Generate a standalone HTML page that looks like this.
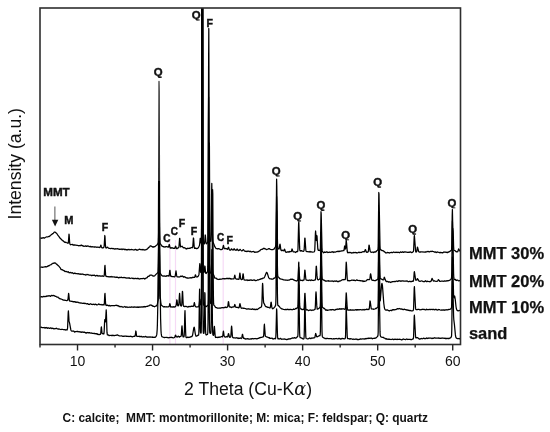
<!DOCTYPE html>
<html><head><meta charset="utf-8"><style>
html,body{margin:0;padding:0;background:#fff;}
body{width:550px;height:432px;overflow:hidden;}
svg{display:block;}
</style></head><body>
<svg width="550" height="432" viewBox="0 0 550 432">
<rect width="550" height="432" fill="#fff"/>
<defs><clipPath id="qc"><rect x="151.3" y="64.3" width="14" height="13.6"/><rect x="189.25" y="7.0" width="14" height="13.6"/><rect x="269.3" y="162.9" width="14" height="13.6"/><rect x="290.6" y="208.0" width="14" height="13.6"/><rect x="314.0" y="197.4" width="14" height="13.6"/><rect x="338.8" y="226.7" width="14" height="13.6"/><rect x="370.8" y="174.2" width="14" height="13.6"/><rect x="405.7" y="221.1" width="14" height="13.6"/><rect x="445.0" y="194.6" width="14" height="13.6"/></clipPath><clipPath id="cp"><rect x="40" y="8" width="420.5" height="336.5"/></clipPath></defs>
<g stroke="#f6daf6" stroke-width="1.2">
<line x1="169.9" y1="240" x2="169.9" y2="344"/>
<line x1="175.5" y1="240" x2="175.5" y2="344"/>
<line x1="223.2" y1="240" x2="223.2" y2="344"/>
</g>
<g clip-path="url(#cp)" fill="none" stroke="#000" stroke-width="1.25" stroke-linejoin="round">
<path d="M40.0 238.3 L40.2 238.2 L40.4 238.3 L40.6 237.9 L40.8 238.1 L41.2 238.1 L41.4 238.0 L41.6 238.3 L41.8 238.0 L42.2 237.9 L42.4 238.0 L42.6 237.8 L42.8 237.9 L43.6 237.7 L44.0 238.0 L44.6 238.0 L45.2 237.5 L46.8 236.8 L47.4 237.0 L48.6 236.5 L49.0 236.7 L49.2 236.4 L49.6 236.3 L49.8 236.2 L50.4 235.3 L51.4 234.8 L52.8 233.5 L53.2 233.5 L54.2 232.1 L54.4 232.1 L54.6 232.0 L55.2 232.2 L56.8 233.5 L57.8 235.2 L58.8 236.3 L60.2 238.3 L61.2 239.2 L62.4 240.5 L62.8 240.8 L63.0 240.7 L63.6 241.3 L63.8 241.3 L64.2 241.9 L64.4 241.8 L64.8 242.3 L65.0 242.3 L65.2 242.1 L65.4 242.5 L66.0 242.3 L66.2 242.5 L67.8 243.1 L68.0 243.3 L68.2 243.1 L68.4 242.1 L69.0 234.1 L69.2 235.3 L69.6 242.0 L69.8 243.4 L70.2 244.4 L70.6 244.6 L70.8 244.8 L71.4 244.5 L72.2 244.4 L73.0 244.9 L73.2 245.1 L73.6 244.9 L73.8 244.9 L74.0 245.1 L74.2 244.9 L74.8 245.2 L75.0 245.0 L75.4 245.1 L75.8 245.0 L76.8 245.3 L77.4 245.3 L78.4 245.8 L78.6 245.6 L79.2 245.5 L80.2 245.8 L80.8 245.3 L81.0 245.3 L81.2 245.0 L81.4 245.3 L82.0 245.7 L82.2 245.8 L82.4 245.5 L82.8 245.8 L83.0 245.7 L84.0 246.4 L85.2 246.0 L85.4 246.1 L85.6 245.9 L86.4 246.4 L87.0 246.1 L87.2 245.8 L88.0 246.2 L88.2 246.2 L88.4 246.1 L88.8 246.3 L89.0 246.3 L89.2 246.6 L89.8 246.4 L90.0 246.3 L90.2 246.3 L90.4 246.5 L90.6 246.4 L91.0 247.0 L91.4 246.8 L91.6 246.9 L91.8 246.6 L92.2 246.6 L92.8 247.0 L93.6 246.9 L94.4 247.2 L94.8 246.8 L95.2 246.8 L95.4 247.0 L95.8 247.1 L96.4 247.1 L97.0 247.3 L97.2 247.1 L97.8 247.1 L99.2 247.3 L99.6 247.6 L100.2 247.0 L100.8 245.1 L101.0 245.3 L101.4 247.0 L101.6 247.4 L102.0 247.8 L102.2 247.7 L102.4 248.0 L103.2 247.9 L104.0 247.0 L104.2 245.7 L104.8 235.5 L105.0 236.7 L105.4 244.8 L105.8 247.9 L106.4 248.0 L106.6 247.9 L107.4 247.1 L107.6 247.2 L108.4 248.2 L109.4 248.3 L109.8 248.5 L110.4 248.7 L111.2 248.4 L111.8 248.5 L112.0 248.4 L112.6 248.6 L113.0 248.6 L113.4 248.7 L113.8 248.5 L114.0 248.9 L114.2 248.8 L114.8 249.2 L116.0 248.7 L116.2 248.9 L116.8 248.8 L117.0 248.9 L117.6 248.7 L117.8 248.9 L118.4 249.0 L118.6 249.2 L118.8 248.9 L119.0 249.0 L119.2 249.0 L119.4 249.3 L119.6 249.1 L119.8 249.3 L120.2 249.4 L120.4 249.2 L120.6 249.3 L121.2 249.0 L121.6 249.1 L122.0 249.7 L122.2 249.7 L122.8 249.0 L123.0 249.0 L123.4 249.0 L123.8 249.4 L124.2 249.2 L124.4 249.6 L124.6 249.6 L124.8 249.4 L125.2 249.6 L125.4 249.4 L126.4 249.8 L126.8 249.7 L127.6 249.9 L128.0 249.5 L128.2 249.6 L128.4 249.4 L128.8 249.5 L129.0 249.7 L129.2 249.5 L129.4 249.7 L129.6 249.6 L129.8 249.8 L130.6 249.7 L130.8 249.6 L131.2 249.6 L131.4 249.4 L133.6 250.0 L134.0 249.8 L134.4 249.9 L135.4 249.4 L136.6 249.8 L137.0 250.3 L137.2 250.3 L138.0 249.8 L138.8 249.6 L139.2 249.2 L139.4 249.4 L139.8 249.2 L140.6 249.6 L141.2 249.5 L141.8 249.8 L142.4 249.8 L142.8 249.4 L143.4 249.6 L143.6 249.8 L144.0 249.8 L144.2 249.9 L144.6 249.8 L144.8 250.0 L145.2 249.8 L145.6 249.9 L145.8 249.7 L146.2 249.7 L146.6 249.3 L146.8 249.4 L147.0 249.3 L147.2 249.0 L147.6 248.7 L148.0 248.1 L148.2 248.1 L148.6 247.4 L148.8 247.3 L149.0 247.3 L149.6 246.9 L150.2 245.9 L150.6 245.8 L151.0 245.9 L152.2 246.8 L152.4 246.7 L152.8 247.2 L153.2 247.0 L153.4 247.2 L153.6 246.8 L154.0 246.7 L154.2 246.9 L154.8 246.7 L156.6 245.1 L156.8 245.1 L157.2 244.7 L157.4 244.2 L158.0 243.4 L158.2 241.9 L158.4 232.5 L159.0 81.4 L159.2 91.3 L159.6 208.2 L159.8 235.1 L160.0 242.5 L160.2 243.9 L160.4 243.9 L161.2 244.9 L161.4 245.4 L162.2 246.4 L162.4 246.3 L162.8 246.5 L163.0 246.4 L163.6 246.9 L163.8 246.7 L164.0 246.9 L164.2 246.8 L164.6 246.9 L164.8 247.1 L165.0 247.0 L165.2 247.0 L165.6 246.6 L166.2 246.5 L166.6 246.7 L166.8 246.6 L167.4 246.8 L167.8 247.1 L168.0 247.0 L168.2 247.2 L168.4 247.1 L168.6 246.9 L169.2 244.5 L169.4 244.7 L170.0 247.6 L170.2 248.0 L170.4 248.1 L171.4 247.9 L171.6 248.0 L171.8 247.7 L172.2 247.7 L173.0 248.3 L174.0 248.2 L174.2 248.4 L174.4 248.3 L174.6 248.4 L174.8 248.3 L175.0 247.9 L175.4 246.5 L175.6 246.2 L175.8 246.5 L176.4 248.5 L176.6 248.5 L177.0 248.7 L177.4 248.3 L178.6 247.6 L178.8 247.4 L179.0 246.5 L179.6 238.3 L179.8 238.5 L180.2 244.1 L180.6 246.8 L181.0 246.8 L181.4 246.5 L182.0 246.2 L183.2 247.7 L183.4 247.8 L183.6 247.6 L183.8 247.8 L184.4 247.7 L184.6 248.0 L185.2 248.1 L185.8 248.6 L186.0 248.9 L186.2 249.0 L186.6 248.8 L186.8 248.8 L187.0 248.5 L187.4 248.3 L187.8 248.5 L188.0 248.4 L188.4 248.5 L188.8 248.3 L189.2 248.4 L189.4 248.2 L189.6 248.4 L190.2 248.2 L190.4 248.2 L191.0 247.6 L191.4 247.5 L191.6 247.7 L192.0 247.6 L192.4 247.8 L192.8 246.5 L193.4 238.0 L193.6 238.4 L194.2 246.8 L194.4 248.0 L194.6 248.3 L195.0 248.2 L195.2 248.3 L195.4 248.0 L196.2 248.3 L196.4 248.6 L196.6 248.5 L197.0 248.6 L197.4 248.5 L198.0 248.1 L198.8 246.8 L199.2 246.0 L199.6 244.7 L200.2 238.5 L200.4 238.3 L201.0 242.9 L201.2 243.2 L201.4 240.4 L201.6 215.7 L201.8 111.2 L202.2 -300.0 L202.4 -278.2 L203.0 207.1 L203.2 238.0 L203.4 243.0 L203.6 243.6 L204.2 244.0 L204.4 243.7 L204.6 242.8 L205.2 235.0 L205.4 235.2 L206.0 242.7 L206.2 243.6 L206.4 243.8 L206.6 243.7 L207.6 242.6 L207.8 241.8 L208.0 236.3 L208.2 210.8 L208.6 63.1 L208.8 28.5 L209.4 205.0 L209.6 232.1 L209.8 239.5 L210.0 240.8 L210.2 241.0 L210.4 241.0 L210.8 241.3 L211.0 240.4 L211.2 234.7 L211.6 193.2 L211.8 183.4 L212.4 232.9 L212.6 239.9 L212.8 241.7 L213.8 243.9 L214.8 246.7 L216.0 248.5 L216.2 248.7 L216.8 248.6 L217.0 248.7 L217.8 249.0 L218.0 248.6 L218.8 248.7 L219.0 248.9 L219.6 248.9 L220.4 249.5 L220.6 249.5 L220.8 249.6 L221.4 249.5 L221.6 249.6 L222.2 249.2 L222.4 249.2 L222.6 248.9 L223.4 245.4 L223.6 245.8 L224.0 247.7 L224.2 248.4 L224.4 248.6 L225.2 248.3 L225.8 248.7 L226.4 248.8 L226.6 248.6 L226.8 248.7 L227.6 249.4 L228.4 247.3 L228.6 247.2 L229.2 249.3 L229.8 250.0 L230.8 250.0 L231.4 248.9 L231.6 248.8 L232.2 249.7 L232.6 249.9 L233.0 249.8 L233.2 250.0 L233.4 249.9 L234.2 248.7 L234.6 249.6 L234.8 249.7 L235.2 250.2 L235.4 250.0 L236.0 250.3 L236.2 250.2 L236.4 250.1 L237.0 249.1 L237.2 249.0 L237.8 250.1 L238.4 250.6 L238.6 250.6 L238.8 250.4 L239.2 250.4 L239.8 249.5 L240.2 249.3 L240.8 250.1 L241.6 250.9 L242.4 250.6 L243.2 249.5 L243.4 249.5 L244.2 250.7 L245.0 251.3 L246.2 251.1 L246.4 251.3 L246.6 251.3 L246.8 251.6 L247.4 251.4 L247.8 251.1 L248.2 251.2 L248.4 251.1 L249.6 251.6 L249.8 251.5 L250.2 251.1 L251.2 252.0 L252.4 251.6 L253.4 251.6 L253.6 251.4 L253.8 251.4 L254.4 252.2 L254.8 252.4 L255.0 252.4 L255.2 252.0 L255.4 252.0 L255.6 252.1 L256.0 252.0 L256.4 252.2 L257.2 252.2 L257.4 251.8 L257.6 251.9 L258.4 251.7 L259.0 251.1 L259.6 250.8 L259.8 250.8 L260.2 250.2 L260.6 250.0 L260.8 249.5 L261.6 249.3 L261.8 249.4 L262.2 249.4 L262.4 249.2 L262.6 249.2 L262.8 248.8 L263.6 248.4 L263.8 248.7 L264.0 248.4 L264.2 248.5 L264.4 248.4 L264.8 248.5 L265.0 248.8 L265.6 248.9 L266.0 249.3 L266.8 249.6 L267.0 249.4 L268.2 249.0 L268.4 248.7 L268.6 248.8 L269.2 248.6 L269.8 248.8 L270.2 249.3 L270.6 249.5 L271.4 249.7 L272.6 249.7 L273.0 249.6 L273.4 249.2 L273.8 249.2 L274.0 249.0 L274.2 249.0 L274.8 247.8 L275.6 246.7 L275.8 245.4 L276.0 239.2 L276.6 179.1 L276.8 185.9 L277.4 238.5 L277.6 245.5 L277.8 247.6 L278.0 248.1 L278.6 249.0 L279.2 248.9 L279.8 244.7 L280.0 244.1 L280.2 244.8 L280.8 249.5 L281.0 250.1 L281.4 250.6 L281.6 250.7 L281.8 250.4 L282.2 250.5 L282.6 250.2 L283.4 250.8 L283.6 250.8 L283.8 250.7 L284.0 250.3 L284.4 249.1 L284.6 249.2 L284.8 249.7 L285.4 251.7 L285.8 252.2 L286.2 252.4 L287.0 252.0 L287.2 252.1 L287.4 251.8 L288.0 251.9 L288.2 251.7 L288.4 252.0 L289.2 252.0 L289.6 251.5 L289.8 251.7 L290.6 251.5 L291.0 251.6 L291.4 251.4 L292.0 249.0 L292.2 249.1 L292.8 251.2 L293.2 251.8 L293.4 251.9 L294.6 251.8 L295.6 252.5 L296.0 252.2 L296.4 251.6 L296.8 251.6 L297.0 251.4 L297.4 251.7 L297.6 251.5 L297.8 250.8 L298.0 248.3 L298.6 223.7 L298.8 221.8 L299.6 246.9 L299.8 249.9 L300.0 250.8 L300.2 250.8 L300.4 251.1 L300.8 250.6 L301.0 250.8 L301.6 250.7 L301.8 251.0 L302.4 251.0 L302.6 251.2 L303.2 251.3 L303.6 251.3 L304.0 250.6 L304.2 249.2 L304.8 238.1 L305.0 238.1 L305.8 249.8 L306.0 251.0 L306.2 251.3 L306.8 251.6 L308.0 251.6 L308.2 251.8 L309.0 251.6 L309.2 251.4 L309.8 252.0 L310.0 251.9 L310.2 252.0 L310.8 251.5 L311.0 251.7 L311.2 251.7 L311.6 252.0 L312.2 252.2 L314.0 251.9 L314.4 251.6 L314.6 251.1 L314.8 249.8 L315.4 233.5 L315.6 231.0 L316.2 240.0 L316.4 240.5 L316.8 235.5 L317.0 236.1 L317.8 248.7 L318.0 249.8 L318.4 250.3 L318.8 250.2 L319.2 250.5 L319.4 250.3 L319.6 250.4 L320.0 250.4 L320.2 250.1 L320.4 247.6 L321.0 211.7 L321.2 213.9 L322.0 248.0 L322.2 250.9 L322.4 251.4 L323.6 252.8 L324.6 252.0 L324.8 252.2 L325.4 252.4 L326.0 252.0 L326.4 251.9 L326.6 252.1 L326.8 251.9 L327.2 252.1 L327.8 252.6 L328.0 252.6 L328.4 252.3 L328.8 252.4 L329.2 252.2 L329.4 252.3 L329.8 252.1 L330.8 252.3 L331.4 252.1 L331.6 251.9 L332.0 251.9 L332.2 251.6 L332.6 252.0 L333.0 252.1 L333.2 252.5 L333.8 251.8 L334.2 251.8 L334.4 252.1 L335.2 252.2 L336.6 251.5 L337.2 251.6 L337.4 251.3 L337.6 251.3 L337.8 251.4 L338.2 251.1 L338.6 251.6 L338.8 251.4 L339.0 251.3 L339.2 251.5 L339.4 251.2 L339.8 251.3 L340.8 251.2 L341.2 250.9 L341.4 251.0 L341.6 250.9 L342.2 251.0 L343.2 250.5 L343.8 250.7 L344.0 250.2 L344.2 249.1 L344.6 246.0 L344.8 246.3 L345.4 249.0 L345.6 248.6 L346.2 240.4 L346.6 243.3 L347.2 251.0 L347.6 252.7 L348.0 252.8 L348.6 252.4 L349.2 252.6 L350.0 252.3 L351.8 253.1 L352.2 252.8 L352.6 252.9 L352.8 252.7 L353.2 252.8 L353.6 252.3 L354.8 252.7 L355.2 252.5 L355.6 252.7 L355.8 252.5 L356.2 252.8 L356.6 252.6 L356.8 252.9 L357.2 252.7 L357.4 252.8 L358.2 252.6 L358.8 252.2 L359.2 252.2 L359.8 252.7 L360.4 252.4 L361.4 252.5 L362.0 252.0 L362.6 251.9 L362.8 251.6 L363.4 251.6 L363.8 251.9 L364.6 251.6 L365.0 250.1 L365.2 249.7 L365.4 249.6 L365.8 250.4 L366.4 252.2 L367.0 252.3 L367.2 252.0 L367.8 252.1 L368.2 251.7 L368.4 251.1 L369.0 245.1 L369.2 245.3 L370.2 251.4 L370.6 252.0 L371.4 252.3 L371.6 252.1 L372.0 252.2 L372.6 252.1 L373.6 252.5 L374.2 251.8 L374.6 251.9 L374.8 252.2 L375.0 252.2 L375.6 251.9 L375.8 251.5 L376.2 251.7 L376.4 251.2 L377.2 250.3 L377.6 250.2 L378.0 249.5 L378.2 246.4 L378.8 192.5 L379.0 194.0 L380.0 245.5 L380.2 248.8 L380.4 249.5 L380.8 249.9 L381.0 250.1 L381.2 250.0 L381.6 250.4 L382.2 250.7 L382.8 250.5 L383.0 250.6 L383.2 250.9 L383.4 250.9 L384.0 251.5 L384.2 251.4 L384.6 251.9 L385.0 252.0 L385.2 252.4 L385.6 252.6 L386.0 253.0 L386.6 252.9 L387.6 252.4 L387.8 252.6 L388.0 252.6 L388.4 252.8 L388.8 252.6 L389.4 253.0 L389.6 253.0 L390.0 252.9 L390.4 252.5 L391.4 252.4 L391.8 252.6 L392.0 252.5 L392.6 252.6 L393.6 252.0 L394.8 252.5 L395.2 252.3 L395.6 252.5 L395.8 252.4 L396.2 252.5 L397.0 252.1 L397.2 252.3 L397.8 252.3 L398.0 252.5 L398.6 252.3 L399.4 252.8 L400.4 252.0 L400.6 252.2 L400.8 252.0 L401.2 252.4 L401.4 252.3 L401.8 252.4 L402.2 252.0 L402.4 252.1 L402.8 251.8 L403.4 252.3 L403.8 252.4 L404.2 252.2 L404.4 251.9 L404.8 251.8 L405.0 251.9 L405.2 251.8 L405.8 252.1 L406.2 252.0 L407.4 252.4 L408.4 252.2 L408.6 252.4 L409.2 252.4 L410.2 251.9 L410.4 252.0 L410.6 251.9 L411.0 252.3 L411.6 252.6 L411.8 252.4 L412.2 252.5 L412.4 252.4 L413.4 251.5 L413.6 250.5 L414.2 236.7 L414.4 235.5 L415.6 251.0 L415.8 252.0 L416.0 252.1 L416.6 251.8 L416.8 251.3 L417.4 247.1 L417.6 247.4 L417.8 248.1 L418.6 251.3 L418.8 251.7 L419.6 252.2 L420.6 251.8 L420.8 252.0 L421.8 251.8 L424.8 252.1 L425.4 251.8 L425.6 252.0 L425.8 251.8 L426.2 252.0 L426.8 251.7 L427.0 251.5 L427.2 251.4 L427.6 251.7 L428.0 251.5 L428.4 251.6 L428.6 251.4 L429.0 251.8 L429.4 251.8 L429.6 251.9 L430.6 251.3 L430.8 251.4 L431.2 251.3 L431.6 251.5 L431.8 251.3 L432.4 251.2 L433.4 251.7 L434.0 251.6 L434.6 252.2 L435.2 252.1 L435.6 251.9 L436.2 252.6 L436.6 252.5 L437.2 251.9 L437.6 252.0 L437.8 252.2 L439.0 252.3 L439.6 252.7 L440.0 252.8 L440.4 252.4 L440.8 252.4 L441.4 252.7 L442.4 252.9 L442.6 252.7 L442.8 252.9 L443.0 252.5 L443.4 252.4 L443.8 252.0 L444.2 252.1 L444.4 252.0 L445.0 252.3 L445.2 252.1 L445.8 252.1 L446.4 252.5 L446.8 252.3 L447.2 252.5 L447.6 252.3 L447.8 252.5 L448.0 252.2 L448.8 251.9 L449.0 252.0 L449.2 251.7 L449.4 251.7 L449.8 251.5 L450.6 250.7 L451.4 250.3 L451.6 249.3 L451.8 244.8 L452.2 215.4 L452.4 209.5 L452.8 228.3 L453.0 228.4 L453.2 230.7 L453.6 246.5 L453.8 249.6 L454.0 250.3 L454.8 250.5 L455.2 250.8 L455.4 251.1 L455.6 251.1 L456.0 251.7 L456.6 251.8 L457.0 251.7 L457.2 251.8 L457.4 251.6 L457.6 251.7 L457.8 251.6 L458.6 248.9 L458.8 249.1 L459.0 249.7 L459.8 250.9 L460.2 251.2 L461.0 251.1"/>
<path d="M40.0 267.3 L40.2 267.4 L40.6 267.2 L41.0 267.2 L41.2 267.0 L42.4 267.4 L42.8 267.1 L43.2 267.2 L44.6 266.9 L45.2 266.6 L45.6 266.6 L45.8 266.8 L46.0 266.7 L46.6 266.8 L46.8 266.6 L47.0 266.6 L47.4 266.4 L48.0 265.9 L48.4 266.0 L48.8 265.7 L49.0 265.8 L49.4 265.3 L49.6 265.3 L50.0 265.0 L51.2 264.6 L51.6 264.0 L52.6 263.6 L53.0 263.2 L53.2 263.2 L53.4 263.3 L53.6 263.1 L54.0 263.2 L54.4 262.9 L54.6 263.1 L54.8 262.8 L55.2 263.1 L55.6 263.1 L56.4 264.1 L56.6 264.1 L57.0 264.6 L57.2 264.5 L57.6 265.1 L58.0 265.3 L58.2 265.7 L58.4 265.7 L60.2 267.8 L61.0 269.4 L61.4 269.7 L62.0 269.6 L63.0 270.1 L63.2 270.4 L63.6 270.5 L64.0 270.8 L64.2 270.7 L64.6 271.3 L65.2 271.6 L65.8 271.3 L66.2 271.4 L66.6 271.7 L66.8 271.7 L67.0 271.9 L67.4 272.0 L67.6 271.8 L67.8 272.0 L68.2 271.6 L69.2 272.8 L69.4 272.6 L70.0 272.6 L70.2 272.4 L71.0 272.6 L71.2 273.0 L71.6 272.8 L72.0 272.9 L72.2 272.6 L72.6 272.9 L73.0 273.0 L73.2 273.5 L73.6 273.7 L73.8 273.6 L74.0 273.6 L74.6 273.1 L74.8 273.3 L75.2 273.2 L75.6 273.6 L76.2 273.7 L76.8 273.6 L77.4 273.7 L77.8 273.9 L78.4 273.7 L78.8 273.8 L79.4 274.2 L79.6 274.0 L80.0 273.9 L81.0 274.4 L81.4 274.1 L82.4 274.0 L82.6 274.2 L82.8 274.1 L83.2 274.4 L83.6 274.4 L83.8 274.6 L85.0 274.5 L85.6 275.0 L86.0 275.0 L86.6 274.7 L86.8 274.4 L87.0 274.6 L87.2 274.5 L87.4 274.6 L87.8 274.6 L88.0 274.5 L89.2 275.2 L90.2 275.2 L90.4 275.1 L91.2 275.2 L91.4 275.6 L91.8 275.6 L92.6 275.2 L93.2 275.3 L94.2 275.1 L95.6 276.0 L96.0 275.6 L96.4 275.6 L96.6 275.4 L97.0 275.6 L97.2 275.5 L97.6 275.8 L97.8 275.7 L98.0 276.1 L98.8 275.9 L99.0 275.7 L99.8 276.0 L100.4 276.0 L100.8 275.9 L101.2 276.2 L101.6 276.2 L102.6 275.8 L103.0 276.0 L103.6 276.0 L103.8 276.3 L104.0 276.2 L104.2 275.4 L104.4 273.6 L104.8 266.2 L105.0 265.3 L105.6 274.9 L106.0 276.3 L106.2 276.4 L106.6 276.3 L106.8 276.5 L108.2 276.5 L109.0 277.0 L110.0 276.7 L110.6 276.9 L111.2 276.5 L111.6 276.9 L112.2 276.9 L112.6 276.7 L113.0 277.0 L114.0 276.9 L114.4 277.1 L114.8 277.2 L115.0 277.0 L116.0 277.5 L116.2 277.4 L116.4 277.1 L116.6 277.1 L116.8 277.3 L117.2 277.1 L117.6 277.4 L117.8 277.4 L118.0 277.5 L118.4 277.9 L119.6 277.3 L119.8 277.5 L120.4 277.5 L121.0 277.2 L121.2 277.3 L121.4 277.2 L121.6 277.5 L122.0 277.7 L122.2 277.6 L122.4 277.7 L122.6 277.6 L122.8 277.7 L123.4 277.5 L123.6 277.7 L124.0 277.5 L124.4 277.7 L124.6 277.5 L125.0 277.7 L125.4 277.7 L125.6 277.9 L126.2 278.1 L127.0 277.8 L128.0 278.3 L128.4 278.1 L128.6 277.9 L129.2 277.8 L129.4 277.9 L129.6 278.3 L130.2 278.5 L131.6 278.0 L131.8 278.0 L132.0 278.2 L132.2 278.1 L132.4 278.4 L132.8 278.5 L133.0 278.3 L133.2 278.5 L133.6 278.4 L134.0 278.7 L134.4 278.5 L134.6 278.7 L135.0 278.4 L135.8 278.4 L136.2 278.7 L136.6 278.5 L137.0 278.6 L137.2 278.4 L137.4 278.6 L137.6 278.4 L138.0 278.3 L138.2 278.6 L138.4 278.5 L139.0 278.9 L139.2 278.8 L139.4 279.0 L139.8 278.8 L140.2 278.8 L140.4 278.6 L140.6 278.6 L141.0 278.7 L141.4 278.6 L142.4 278.6 L143.4 278.3 L144.0 278.3 L144.4 278.8 L144.6 278.7 L144.8 279.0 L145.6 278.5 L145.8 278.2 L146.0 278.2 L146.6 277.8 L146.8 277.9 L147.2 277.6 L147.6 276.9 L148.2 276.3 L148.6 276.4 L148.8 276.2 L149.0 276.3 L149.2 276.2 L150.2 275.0 L151.6 275.0 L152.6 275.8 L153.4 276.1 L153.8 275.9 L154.4 276.0 L154.8 275.7 L156.2 274.1 L158.0 272.5 L158.2 271.7 L158.4 266.5 L158.6 247.7 L159.0 182.5 L159.2 188.1 L159.6 253.1 L159.8 268.2 L160.0 272.6 L160.2 273.4 L160.4 273.8 L160.6 273.8 L160.8 274.1 L161.6 275.4 L163.0 276.2 L164.2 275.9 L164.6 276.1 L165.4 276.1 L166.0 276.4 L167.0 275.6 L167.2 275.9 L167.6 275.9 L167.8 275.7 L168.0 275.8 L168.2 275.7 L168.6 275.8 L168.8 276.2 L169.0 276.0 L169.2 275.4 L169.8 270.3 L170.0 270.5 L170.4 274.3 L170.6 275.6 L170.8 276.1 L171.0 276.4 L171.6 276.3 L171.8 276.5 L173.6 276.5 L174.0 276.8 L174.6 276.9 L175.2 276.2 L176.0 270.9 L176.6 275.4 L177.0 276.7 L177.2 276.6 L177.4 276.9 L177.6 276.8 L178.2 277.0 L178.4 276.9 L179.0 277.0 L179.4 276.9 L179.6 277.0 L180.2 276.7 L180.6 276.2 L181.6 276.5 L182.2 276.0 L182.6 276.1 L183.2 276.9 L183.6 277.1 L184.0 276.7 L184.6 276.9 L186.4 277.9 L187.0 277.9 L187.2 278.1 L187.4 277.9 L188.0 278.2 L188.2 278.1 L188.4 278.2 L189.6 277.9 L190.0 278.0 L190.8 277.6 L191.4 278.0 L191.8 277.8 L192.2 277.4 L192.6 277.6 L193.0 277.3 L193.2 277.5 L193.8 277.3 L194.0 277.4 L194.6 277.4 L194.8 277.1 L195.2 275.3 L195.4 274.9 L195.6 275.0 L196.0 276.5 L196.2 276.7 L196.8 277.0 L197.4 276.7 L197.6 276.8 L198.2 276.2 L198.8 275.0 L199.0 274.3 L199.8 263.6 L200.0 264.7 L200.4 270.5 L200.6 271.9 L200.8 272.5 L201.0 272.5 L201.2 272.0 L201.4 266.2 L201.6 227.8 L202.2 -299.8 L202.4 -220.6 L202.8 165.8 L203.0 247.8 L203.2 268.9 L203.4 271.8 L203.8 272.6 L204.0 272.5 L204.2 271.9 L204.8 266.0 L205.0 266.3 L205.4 270.8 L205.8 273.4 L206.2 273.5 L206.4 273.1 L207.0 272.6 L207.2 272.1 L207.4 272.0 L207.6 271.4 L207.8 266.9 L208.0 246.3 L208.4 125.2 L208.6 97.0 L209.2 242.1 L209.4 264.5 L209.6 270.9 L209.8 272.1 L210.4 273.0 L210.8 273.0 L211.0 272.5 L211.2 271.2 L211.8 261.2 L212.0 261.4 L212.4 269.0 L212.8 273.3 L213.0 274.0 L213.2 274.1 L213.8 275.2 L214.8 278.1 L215.0 278.2 L215.6 278.1 L216.2 278.2 L217.2 279.2 L217.6 279.2 L217.8 279.4 L218.0 279.3 L218.6 279.5 L219.6 279.2 L220.0 279.3 L220.4 279.2 L220.8 279.2 L221.2 279.1 L221.4 279.2 L222.2 279.0 L223.0 278.4 L223.6 278.8 L224.4 278.6 L225.0 278.8 L225.8 278.6 L226.2 278.6 L226.6 278.4 L226.8 278.5 L227.0 278.3 L227.4 278.3 L227.6 278.5 L227.8 278.3 L228.0 278.5 L228.2 278.4 L228.4 278.8 L228.6 278.5 L228.8 278.6 L229.0 278.5 L229.2 278.7 L229.4 278.3 L229.6 278.5 L229.8 278.3 L230.2 278.5 L230.4 278.8 L230.6 278.7 L231.0 279.0 L231.4 278.8 L231.6 279.0 L233.0 278.8 L233.8 278.9 L234.2 278.0 L234.6 275.7 L234.8 275.2 L235.4 278.0 L235.8 278.8 L236.4 279.1 L237.0 279.0 L237.6 279.3 L238.0 279.1 L238.4 279.3 L238.6 279.2 L238.8 279.4 L239.0 279.2 L239.2 278.5 L239.8 273.2 L240.0 273.2 L240.6 278.3 L241.0 279.4 L241.4 279.6 L242.2 279.4 L242.4 278.9 L243.0 273.8 L243.2 273.8 L243.8 278.9 L244.0 279.7 L244.2 279.9 L244.6 279.9 L245.0 280.2 L245.8 280.1 L246.6 280.1 L247.0 279.8 L247.2 279.9 L247.8 280.5 L248.4 280.4 L248.6 280.1 L248.8 280.1 L249.0 280.4 L249.6 280.3 L250.2 279.8 L250.4 280.0 L250.8 280.0 L251.2 280.1 L251.4 279.9 L251.8 280.3 L252.4 280.4 L253.4 280.0 L253.6 280.1 L254.4 279.9 L255.0 280.4 L255.2 280.5 L255.4 280.7 L255.6 280.5 L255.8 280.6 L256.8 280.5 L257.0 280.2 L257.8 279.7 L258.0 279.9 L258.6 280.0 L259.6 279.3 L260.0 279.4 L260.6 279.2 L261.0 278.7 L262.0 278.8 L262.2 278.5 L263.0 278.1 L263.4 278.2 L263.8 278.0 L264.2 277.7 L264.8 276.5 L266.2 273.0 L266.4 272.6 L266.8 272.3 L267.4 273.5 L268.6 277.4 L269.0 278.1 L269.8 278.8 L270.2 278.9 L270.4 278.8 L271.0 278.8 L271.6 279.2 L271.8 279.0 L272.8 279.2 L273.0 279.1 L273.4 278.6 L274.2 278.1 L274.4 278.2 L275.2 277.5 L275.6 276.7 L275.8 275.2 L276.0 267.6 L276.6 196.6 L276.8 204.2 L277.4 265.7 L277.6 273.8 L277.8 276.2 L278.0 276.7 L278.6 277.3 L279.0 277.5 L279.2 278.0 L280.0 278.9 L280.4 278.8 L281.4 279.2 L282.6 279.3 L283.0 279.7 L283.6 279.9 L284.0 279.8 L284.4 280.0 L285.2 280.2 L285.4 280.0 L286.0 280.2 L286.2 280.1 L286.4 280.2 L286.6 280.1 L287.6 280.3 L288.0 280.1 L288.4 280.2 L289.0 280.1 L289.4 279.9 L289.8 279.9 L290.6 279.2 L291.6 279.4 L291.8 279.2 L292.0 279.1 L292.8 279.4 L293.6 279.8 L293.8 280.0 L294.2 280.0 L295.2 280.7 L295.4 280.6 L296.4 281.0 L296.6 281.0 L297.2 280.5 L297.6 280.5 L297.8 280.1 L298.0 279.3 L298.6 268.1 L298.8 267.0 L299.6 278.1 L299.8 279.6 L300.0 280.1 L300.8 280.3 L301.0 280.5 L301.8 280.4 L302.0 280.5 L302.2 280.4 L302.8 280.6 L303.0 280.2 L303.6 280.2 L304.0 279.9 L304.2 278.8 L304.8 270.1 L305.0 270.2 L305.8 278.8 L306.0 279.6 L306.4 280.1 L306.8 280.1 L308.0 280.5 L308.2 280.3 L308.8 280.4 L309.0 280.2 L309.2 280.3 L309.8 280.0 L310.6 280.6 L310.8 280.6 L311.2 280.1 L311.6 279.9 L312.2 280.3 L313.0 280.3 L313.6 280.5 L314.6 280.0 L315.0 280.2 L315.4 279.7 L315.6 278.3 L316.2 266.3 L316.4 266.2 L317.0 275.4 L317.4 278.9 L317.8 279.6 L318.4 279.8 L318.6 279.8 L319.4 279.3 L319.6 279.0 L320.0 278.8 L320.2 278.0 L320.4 274.8 L321.0 235.8 L321.2 238.3 L322.0 275.8 L322.2 278.8 L322.4 279.5 L322.6 279.3 L322.8 279.4 L323.6 280.2 L324.0 280.1 L324.4 280.3 L325.0 280.9 L325.4 281.1 L326.0 280.9 L326.2 281.0 L327.0 281.0 L327.6 280.9 L327.8 281.0 L328.2 280.7 L328.6 281.2 L328.8 281.0 L329.2 281.2 L329.4 281.0 L331.4 281.2 L332.4 280.9 L333.4 281.6 L334.2 280.9 L334.6 281.2 L335.2 281.3 L335.4 281.1 L335.6 281.2 L336.2 280.9 L336.4 281.1 L336.6 281.0 L337.2 281.5 L337.4 281.4 L337.6 281.5 L337.8 281.3 L338.0 281.6 L338.4 281.7 L338.6 281.5 L338.8 281.6 L339.4 280.9 L339.6 281.1 L340.2 281.1 L341.2 280.4 L342.6 279.7 L343.4 279.5 L343.6 279.8 L343.8 279.6 L344.2 279.5 L344.8 279.6 L345.2 279.6 L345.4 278.8 L345.6 276.2 L346.2 262.2 L346.4 263.3 L347.2 278.1 L347.4 279.9 L347.6 280.5 L347.8 280.5 L348.0 280.8 L348.2 280.8 L348.6 280.5 L348.8 280.7 L349.2 280.6 L349.4 280.8 L350.2 280.5 L350.8 280.5 L351.2 280.4 L351.8 280.0 L352.2 280.0 L353.2 280.4 L353.8 280.2 L354.0 280.4 L354.2 280.2 L354.8 280.5 L355.0 280.4 L355.2 280.6 L355.6 280.6 L356.2 280.3 L356.6 279.9 L357.0 280.1 L357.2 280.0 L357.4 280.3 L357.8 280.4 L358.6 280.5 L359.0 280.4 L359.6 280.7 L360.6 280.7 L361.0 281.0 L361.4 280.8 L361.8 280.8 L362.0 280.7 L362.2 280.7 L363.0 281.6 L363.4 281.5 L363.8 281.0 L364.8 281.4 L365.0 281.2 L366.2 280.8 L367.4 279.5 L368.4 279.7 L368.6 279.5 L369.4 279.6 L369.6 279.4 L369.8 279.1 L370.0 278.0 L370.4 274.4 L370.6 273.8 L370.8 274.4 L371.6 279.3 L372.0 280.1 L372.8 280.4 L373.4 280.2 L374.2 280.7 L374.4 280.5 L375.0 280.5 L375.4 280.7 L375.8 280.3 L376.4 279.9 L376.6 279.9 L376.8 280.0 L377.8 278.8 L378.0 278.2 L378.2 275.5 L378.8 227.7 L379.0 229.3 L380.0 275.2 L380.2 277.9 L380.4 278.7 L380.8 278.8 L381.0 278.8 L381.2 279.0 L381.4 279.0 L383.0 279.9 L383.4 279.9 L383.6 279.7 L383.8 279.2 L384.2 277.3 L384.4 277.2 L385.2 279.6 L386.0 281.2 L386.4 281.6 L386.8 281.6 L387.2 281.3 L388.2 282.0 L388.6 281.8 L388.8 282.0 L389.4 281.8 L389.8 281.9 L390.4 282.4 L390.8 282.5 L391.2 282.1 L391.8 281.8 L392.2 281.9 L392.6 281.6 L392.8 281.7 L393.4 281.5 L394.0 281.6 L395.0 281.4 L395.2 281.7 L396.4 281.0 L397.4 281.5 L397.8 281.2 L398.0 281.3 L398.4 281.0 L398.6 281.1 L399.0 280.6 L400.4 281.3 L400.8 281.0 L401.0 281.2 L401.6 281.0 L401.8 281.2 L402.0 280.9 L403.0 280.8 L403.8 281.1 L404.6 281.1 L405.6 281.0 L406.0 281.2 L407.0 280.9 L407.2 280.9 L408.0 281.6 L408.4 281.8 L409.4 281.3 L409.8 281.6 L410.0 281.4 L410.2 281.7 L410.6 281.6 L410.8 281.4 L411.4 281.7 L412.4 281.1 L413.0 281.3 L413.2 281.3 L413.4 280.9 L413.6 280.2 L413.8 278.4 L414.2 272.2 L414.4 271.6 L415.6 279.7 L416.0 280.3 L416.8 279.9 L417.4 278.6 L418.0 279.4 L418.6 280.6 L419.2 281.2 L420.0 281.4 L420.4 281.2 L420.6 281.2 L420.8 281.0 L421.6 280.9 L422.2 281.0 L423.0 281.6 L423.4 281.5 L424.2 281.7 L424.6 281.6 L424.8 281.2 L425.0 281.2 L425.4 280.8 L425.6 280.7 L426.0 281.0 L426.4 281.6 L426.8 281.7 L427.4 281.2 L427.6 281.2 L427.8 281.3 L428.4 281.5 L429.0 281.4 L429.4 281.7 L429.8 281.6 L430.0 281.8 L430.6 281.3 L430.8 281.4 L431.0 281.0 L431.2 281.0 L432.0 278.4 L432.2 278.5 L433.2 280.8 L433.8 281.2 L434.0 280.9 L434.2 280.9 L434.4 281.0 L434.8 280.9 L435.0 281.0 L436.0 281.4 L437.6 281.2 L438.4 279.6 L439.2 280.4 L439.8 281.3 L440.2 281.4 L441.2 281.2 L441.4 281.0 L442.2 281.0 L442.6 281.2 L443.0 281.1 L443.2 281.3 L443.8 281.2 L444.8 280.8 L445.4 281.1 L446.0 281.2 L447.2 280.7 L448.2 280.8 L448.6 280.6 L449.0 280.6 L449.4 280.3 L449.6 280.3 L450.0 280.0 L450.4 279.9 L451.0 279.3 L451.4 278.5 L451.6 277.2 L451.8 271.0 L452.2 229.1 L452.4 221.0 L452.8 247.8 L453.0 247.9 L453.2 251.5 L453.6 273.7 L453.8 277.7 L454.0 278.9 L454.4 279.5 L454.6 279.4 L454.8 279.5 L455.2 279.5 L455.4 279.4 L456.0 280.4 L456.2 280.4 L456.4 280.5 L457.0 280.1 L457.8 280.2 L458.2 280.6 L459.0 280.9 L459.6 280.6 L459.8 280.7 L460.4 280.7 L461.0 280.5"/>
<path d="M40.0 297.2 L41.0 296.6 L41.2 296.8 L41.6 296.6 L42.6 297.0 L43.0 296.7 L43.6 296.4 L43.8 296.4 L44.0 296.6 L44.4 296.5 L44.8 296.6 L45.2 296.3 L45.8 296.6 L46.4 296.4 L46.8 295.8 L48.0 296.2 L48.2 295.9 L49.4 295.7 L50.0 296.0 L50.4 296.4 L50.8 296.1 L51.4 295.3 L52.4 295.8 L53.2 295.3 L53.4 295.5 L53.6 295.4 L54.2 295.8 L54.4 295.7 L55.0 296.2 L55.2 296.1 L55.4 296.3 L55.8 296.3 L56.2 296.6 L56.4 296.6 L56.6 296.9 L56.8 297.0 L57.8 297.0 L58.0 297.1 L58.2 297.5 L58.8 298.1 L59.2 298.2 L59.6 298.7 L59.8 298.6 L60.2 298.9 L60.6 298.9 L62.4 299.5 L63.0 300.0 L63.2 299.9 L63.4 300.2 L64.4 300.1 L65.2 300.4 L65.6 300.3 L65.8 300.5 L66.6 300.7 L66.8 300.5 L67.2 300.5 L67.8 300.1 L68.0 299.2 L68.6 293.4 L68.8 294.4 L69.4 300.7 L69.8 301.2 L70.4 301.1 L70.6 301.2 L70.8 301.1 L71.4 301.4 L72.2 301.4 L72.6 301.7 L72.8 301.5 L73.2 301.8 L73.4 301.6 L73.8 301.8 L74.0 301.7 L74.4 301.8 L74.8 301.6 L75.4 301.9 L75.8 302.4 L76.2 302.4 L76.8 301.9 L77.6 302.3 L78.2 302.3 L78.6 302.4 L79.0 302.9 L79.6 302.9 L80.0 302.7 L80.8 303.2 L81.2 303.2 L81.6 303.0 L82.6 303.3 L83.0 303.4 L84.0 303.1 L84.6 303.5 L84.8 303.3 L85.0 303.4 L85.6 303.3 L85.8 303.6 L86.2 303.6 L86.4 303.9 L87.2 303.9 L87.4 303.6 L87.6 303.6 L88.6 304.4 L88.8 304.3 L89.2 304.5 L89.6 304.4 L90.0 304.0 L90.6 303.7 L91.0 303.9 L91.4 304.3 L92.0 304.5 L92.4 304.4 L92.6 304.5 L92.8 304.3 L93.0 304.4 L93.6 304.2 L94.4 304.6 L94.6 304.5 L94.8 304.7 L95.0 304.4 L95.8 304.2 L96.0 304.4 L96.2 304.3 L96.6 304.8 L97.0 304.7 L97.2 304.8 L98.2 304.5 L98.6 304.0 L98.8 304.2 L99.0 304.1 L99.6 304.6 L100.6 304.5 L101.0 304.7 L101.2 304.5 L101.6 304.9 L102.2 305.0 L102.6 304.6 L103.4 304.5 L103.6 304.9 L104.0 305.0 L104.2 304.4 L104.4 302.4 L104.8 294.3 L105.0 293.3 L105.6 303.7 L105.8 304.9 L106.2 305.5 L106.6 305.1 L106.8 305.3 L107.4 305.1 L107.6 305.3 L107.8 305.2 L108.4 305.7 L108.6 305.6 L108.8 305.9 L109.0 305.6 L109.4 305.4 L109.8 305.5 L110.0 305.8 L110.6 306.0 L111.2 305.5 L111.6 305.5 L111.8 305.7 L113.0 305.6 L113.2 305.7 L113.8 305.7 L114.0 305.8 L114.2 305.6 L115.8 305.4 L116.0 305.1 L116.2 305.3 L116.8 305.3 L117.0 305.6 L117.2 305.5 L117.6 305.8 L117.8 305.8 L118.0 305.6 L118.2 305.7 L118.6 305.9 L119.0 306.5 L119.2 306.6 L119.8 306.4 L120.2 306.4 L120.8 306.8 L121.2 306.8 L121.8 306.5 L122.8 307.2 L123.4 307.0 L123.8 307.0 L124.8 306.5 L125.8 307.4 L126.2 307.0 L126.6 307.0 L126.8 306.8 L128.0 307.5 L129.2 307.0 L129.4 307.2 L130.2 307.3 L130.4 307.1 L130.8 307.2 L131.6 306.8 L131.8 307.0 L132.8 307.0 L133.0 307.2 L133.4 307.3 L134.2 306.9 L135.0 307.2 L135.6 307.0 L136.0 307.1 L136.2 307.3 L136.6 307.2 L137.0 307.2 L137.2 307.0 L137.4 307.1 L137.6 307.3 L137.8 307.1 L138.2 307.3 L138.6 307.2 L138.8 307.3 L139.0 307.0 L139.2 307.1 L140.2 306.9 L140.4 307.2 L141.2 307.1 L142.0 306.7 L142.8 307.1 L143.0 307.1 L143.2 306.8 L143.8 306.6 L144.0 306.6 L144.2 306.9 L144.8 306.5 L145.0 306.8 L145.2 306.7 L145.8 306.8 L146.2 306.5 L146.8 306.3 L147.2 306.4 L147.4 306.4 L147.8 306.2 L148.2 305.8 L149.0 305.9 L150.0 304.8 L150.4 305.0 L151.0 305.2 L151.2 305.1 L151.4 305.3 L151.6 305.2 L152.2 305.8 L152.4 305.7 L152.6 306.1 L153.0 306.1 L153.2 306.3 L153.6 306.2 L154.4 306.7 L154.6 306.8 L155.4 306.1 L156.0 306.1 L156.2 305.8 L156.4 305.8 L157.2 304.6 L157.4 304.1 L157.8 301.6 L158.2 300.2 L158.4 294.9 L159.0 198.1 L159.2 204.8 L159.6 280.1 L159.8 295.9 L160.0 298.4 L160.2 297.7 L160.4 298.2 L160.8 302.6 L161.2 304.9 L161.6 305.5 L162.2 305.8 L163.4 306.9 L164.4 306.6 L165.4 306.9 L165.6 306.8 L166.2 306.9 L166.4 306.7 L166.6 306.9 L167.0 307.0 L167.6 306.8 L167.8 306.9 L168.0 306.8 L168.4 306.9 L168.8 306.5 L169.0 306.5 L169.2 306.3 L169.8 303.7 L170.0 303.9 L170.6 306.9 L170.8 307.0 L171.0 307.1 L171.6 306.8 L171.8 306.9 L172.0 306.8 L172.2 307.0 L172.6 307.1 L172.8 307.0 L173.0 307.1 L173.2 306.8 L174.0 306.7 L174.2 307.1 L175.0 307.0 L175.2 306.5 L175.4 306.6 L175.8 306.1 L176.2 305.1 L176.8 299.9 L177.0 300.1 L177.6 305.1 L177.8 305.7 L178.0 305.8 L178.6 305.6 L178.8 304.7 L179.0 302.6 L179.4 295.2 L179.6 293.4 L180.4 304.7 L180.8 305.7 L181.2 306.0 L181.4 305.9 L181.6 305.5 L181.8 304.0 L182.4 291.3 L182.6 291.7 L183.2 304.3 L183.4 305.7 L183.8 306.4 L184.0 306.3 L184.4 306.6 L184.6 306.6 L184.8 306.3 L185.0 306.6 L185.4 306.3 L185.8 306.5 L186.2 306.4 L186.6 306.5 L187.2 306.9 L187.6 306.8 L187.8 307.0 L188.4 306.6 L188.6 306.8 L188.8 306.5 L189.0 306.4 L189.2 306.6 L189.6 306.5 L189.8 306.7 L190.4 306.7 L190.8 306.3 L191.0 306.4 L191.2 306.2 L191.4 306.3 L192.0 306.1 L192.6 306.4 L193.2 306.5 L193.8 305.4 L194.2 303.0 L194.4 302.6 L195.2 306.3 L195.8 306.8 L196.6 307.0 L196.8 306.8 L198.0 306.9 L198.6 306.6 L198.8 306.4 L199.0 305.8 L199.2 304.6 L199.8 299.1 L200.6 304.5 L200.8 304.8 L201.2 304.3 L201.4 300.6 L201.6 273.3 L201.8 157.0 L202.2 -300.0 L202.4 -275.6 L203.0 264.1 L203.2 298.3 L203.4 304.0 L203.6 304.9 L203.8 305.2 L204.0 305.2 L204.4 305.6 L204.8 305.7 L205.0 306.2 L205.4 306.4 L205.8 306.6 L206.0 306.5 L206.2 306.7 L207.0 306.1 L207.2 305.7 L207.6 305.6 L208.2 305.1 L208.4 304.3 L208.6 299.8 L208.8 280.6 L209.2 168.9 L209.4 143.0 L210.0 276.1 L210.2 296.9 L210.4 302.4 L210.6 303.5 L211.0 303.6 L211.2 303.3 L211.6 303.5 L211.8 303.1 L212.0 297.9 L212.6 189.5 L212.8 193.7 L213.2 272.7 L213.4 295.7 L213.6 303.4 L213.8 305.1 L214.8 306.1 L215.4 307.3 L215.8 307.6 L216.8 307.6 L217.2 308.1 L217.8 308.2 L218.0 308.1 L218.6 308.2 L219.0 308.1 L219.2 308.0 L219.4 308.1 L220.0 308.0 L220.2 308.2 L220.6 308.2 L221.8 307.7 L222.0 307.5 L222.6 307.5 L223.0 307.9 L224.0 307.6 L224.6 307.6 L225.2 307.0 L225.6 307.1 L225.8 307.4 L226.2 307.6 L226.4 307.4 L226.6 307.4 L226.8 307.1 L227.0 307.1 L227.2 307.0 L227.4 307.1 L227.8 306.3 L228.4 301.7 L228.6 301.8 L229.2 306.1 L229.4 306.8 L229.8 307.1 L230.2 307.0 L230.4 307.2 L230.6 307.0 L231.0 307.3 L231.4 307.3 L231.6 307.5 L231.8 307.2 L232.0 307.2 L232.6 307.0 L232.8 307.1 L233.2 306.9 L234.0 306.9 L234.2 306.6 L234.8 304.5 L235.0 304.9 L235.4 306.5 L235.8 307.3 L236.2 307.3 L236.4 307.2 L236.6 307.4 L237.6 307.4 L238.0 307.6 L238.2 307.5 L238.4 307.8 L239.0 307.6 L239.2 307.3 L239.8 303.9 L240.0 303.7 L240.8 307.2 L241.0 307.7 L241.6 308.3 L242.2 308.0 L243.4 308.3 L243.6 308.1 L243.8 308.2 L244.4 308.3 L244.6 308.5 L245.8 308.7 L246.4 309.1 L246.6 309.0 L247.0 309.2 L247.8 308.9 L248.0 308.7 L248.2 308.9 L248.4 308.8 L248.6 309.0 L249.0 309.1 L249.2 308.9 L249.4 309.2 L250.4 309.2 L251.4 309.4 L251.6 309.2 L251.8 309.3 L252.0 309.1 L252.2 309.1 L252.4 308.8 L252.6 309.1 L252.8 309.0 L253.2 309.2 L253.4 309.5 L254.4 309.2 L254.6 309.5 L254.8 309.4 L255.4 309.7 L256.0 309.2 L256.4 309.2 L256.6 309.4 L256.8 309.3 L257.0 309.6 L257.4 309.5 L258.0 308.8 L258.2 308.8 L258.6 308.5 L258.8 308.5 L259.2 308.1 L259.8 307.7 L260.0 307.7 L260.2 307.6 L260.6 307.5 L261.4 306.8 L261.6 306.1 L261.8 304.5 L262.0 300.7 L262.4 286.6 L262.6 283.3 L262.8 285.2 L263.2 296.1 L263.6 302.4 L263.8 303.1 L264.6 304.4 L265.2 305.9 L265.8 306.6 L266.2 306.6 L266.6 306.9 L266.8 306.9 L267.8 307.4 L268.8 307.4 L269.8 308.0 L270.2 307.9 L270.4 307.2 L271.0 302.3 L271.2 302.2 L271.8 306.9 L272.0 307.9 L272.2 308.2 L272.8 308.8 L273.4 308.3 L273.8 307.8 L274.0 307.8 L274.8 306.9 L275.6 305.4 L275.8 303.6 L276.0 294.9 L276.6 211.0 L276.8 220.1 L277.4 292.8 L277.6 302.5 L277.8 305.1 L278.0 305.5 L278.4 305.8 L278.6 305.7 L279.0 306.3 L279.4 306.6 L280.4 308.0 L281.2 308.4 L281.8 308.9 L283.0 309.2 L283.2 309.4 L283.6 309.5 L284.6 309.6 L286.0 309.3 L286.2 309.5 L286.8 309.6 L287.6 309.2 L287.8 309.2 L288.0 309.5 L288.2 309.6 L288.8 309.7 L289.0 309.5 L289.6 309.7 L289.8 309.4 L290.4 309.3 L291.0 309.7 L291.2 309.5 L291.6 309.7 L292.0 309.6 L292.4 309.8 L293.0 309.5 L293.6 309.0 L293.8 309.3 L294.0 309.2 L294.2 309.4 L295.0 309.1 L295.6 308.5 L295.8 308.4 L296.2 308.7 L296.4 308.7 L297.2 307.6 L297.4 307.6 L297.6 307.9 L297.8 307.3 L298.0 305.4 L298.2 297.4 L298.6 263.9 L298.8 262.2 L299.6 303.4 L299.8 306.7 L300.2 308.4 L301.0 309.0 L301.2 308.9 L301.4 309.0 L301.8 309.5 L302.0 309.6 L302.4 309.6 L303.0 309.3 L303.4 309.6 L303.8 309.5 L304.0 309.0 L304.2 307.2 L304.8 293.5 L305.0 293.4 L305.8 308.0 L306.0 309.5 L306.2 310.0 L307.2 309.7 L308.4 310.6 L308.8 310.6 L309.4 310.2 L309.6 310.2 L309.8 310.0 L310.4 310.1 L310.6 309.9 L311.8 310.5 L312.6 310.0 L313.8 310.2 L314.2 309.7 L314.8 309.3 L315.0 309.4 L315.2 308.3 L315.4 305.2 L315.8 294.2 L316.0 291.9 L316.2 293.7 L316.8 305.9 L317.2 309.2 L317.6 309.2 L317.8 309.0 L319.0 308.4 L320.0 307.1 L320.2 306.3 L320.4 302.3 L321.0 249.9 L321.2 253.0 L322.0 302.3 L322.2 306.3 L322.4 307.2 L322.6 307.4 L322.8 307.4 L323.6 308.1 L323.8 308.5 L324.2 308.5 L324.4 308.4 L324.6 308.5 L325.6 310.1 L326.0 309.8 L326.2 310.1 L326.6 309.9 L327.0 310.3 L327.2 310.2 L327.4 310.4 L327.6 310.4 L327.8 310.2 L328.4 310.0 L328.8 310.0 L329.6 309.8 L330.0 309.9 L330.6 309.7 L330.8 309.9 L331.0 309.8 L331.6 310.0 L331.8 309.7 L332.4 309.5 L333.4 309.9 L333.6 309.7 L333.8 310.0 L334.4 310.1 L334.6 310.2 L334.8 309.9 L335.2 310.0 L335.4 309.6 L336.2 309.2 L336.4 309.4 L336.8 309.3 L337.0 309.5 L337.6 309.0 L337.8 309.0 L338.0 308.9 L338.6 309.3 L339.0 309.3 L339.6 308.7 L340.2 308.9 L340.6 309.2 L340.8 308.9 L341.0 308.9 L341.2 309.1 L341.6 308.9 L341.8 309.1 L342.2 308.8 L342.6 309.0 L343.0 308.8 L343.2 308.9 L343.4 308.7 L344.0 309.0 L344.2 309.0 L344.6 309.3 L345.2 309.2 L345.4 308.3 L345.6 305.7 L346.2 292.9 L346.4 294.2 L347.2 307.7 L347.4 309.2 L347.6 309.8 L347.8 310.0 L348.0 309.9 L348.4 310.2 L349.0 309.8 L349.6 310.1 L350.4 309.8 L350.6 309.6 L351.0 310.0 L351.4 310.0 L351.6 310.2 L351.8 310.2 L352.0 310.0 L352.4 310.1 L352.8 309.9 L353.2 310.1 L353.4 310.0 L353.8 310.1 L354.2 310.0 L354.4 310.2 L355.0 310.0 L355.8 309.6 L356.0 309.6 L356.8 310.1 L357.6 309.6 L358.6 309.9 L358.8 309.7 L359.0 309.9 L359.4 309.9 L359.6 309.6 L360.0 309.7 L360.2 309.6 L360.8 309.7 L361.0 309.6 L361.2 309.8 L361.6 309.8 L362.0 309.9 L362.4 309.8 L362.6 309.9 L363.0 309.5 L363.2 309.7 L363.6 309.7 L364.0 310.0 L364.2 309.8 L364.4 309.9 L364.8 309.5 L365.0 309.7 L365.8 309.7 L366.4 309.2 L367.4 309.6 L368.0 309.2 L368.2 309.5 L368.4 309.4 L368.8 309.5 L369.0 309.3 L369.4 307.8 L370.0 301.0 L370.2 301.2 L371.2 308.5 L371.4 308.8 L371.6 308.8 L372.0 309.1 L372.8 309.0 L373.2 308.8 L373.6 309.3 L374.8 309.0 L375.6 308.4 L375.8 308.3 L376.2 308.5 L377.8 307.1 L378.0 306.5 L378.2 303.0 L378.8 239.7 L379.0 241.4 L380.0 298.8 L380.2 300.8 L380.4 299.5 L381.4 286.7 L381.8 283.6 L382.0 283.4 L382.4 285.4 L382.6 287.6 L383.8 303.5 L384.4 307.8 L384.8 309.1 L385.2 309.7 L386.0 310.2 L387.2 309.8 L389.2 311.0 L389.8 310.5 L390.6 310.3 L391.0 310.3 L391.2 310.5 L391.8 310.5 L392.2 310.0 L392.6 309.7 L393.0 309.7 L393.2 309.8 L393.4 309.6 L394.4 309.9 L395.2 309.5 L395.8 309.6 L396.6 309.2 L396.8 308.9 L397.0 309.0 L397.4 308.7 L397.8 308.6 L398.6 308.9 L399.6 308.5 L400.8 309.2 L401.2 308.8 L401.4 309.0 L401.8 309.0 L402.2 309.4 L402.4 309.3 L402.6 309.5 L403.0 309.4 L403.6 309.6 L404.6 309.2 L405.0 309.5 L405.4 309.7 L405.8 309.6 L406.2 309.9 L406.4 309.9 L406.6 310.0 L407.0 310.0 L407.2 309.8 L407.4 310.0 L408.0 310.0 L408.2 310.3 L408.6 310.2 L409.0 310.5 L409.2 310.3 L409.6 310.7 L410.0 310.5 L410.4 310.7 L410.6 310.5 L411.0 310.8 L411.4 310.8 L411.6 310.9 L412.2 310.8 L413.0 310.6 L413.4 310.0 L413.6 308.3 L414.2 288.5 L414.4 286.6 L415.4 305.5 L415.6 308.4 L415.8 309.4 L416.0 309.5 L416.6 309.5 L417.2 309.7 L417.8 309.4 L418.6 309.4 L419.0 309.5 L419.2 309.4 L419.4 309.6 L420.2 309.8 L421.0 309.5 L422.0 309.5 L422.2 309.2 L422.4 309.4 L423.0 309.4 L423.2 309.5 L423.8 309.3 L424.4 309.4 L424.6 309.7 L425.0 309.7 L425.4 309.9 L426.0 309.6 L426.2 309.3 L426.6 309.2 L426.8 309.6 L427.4 309.7 L427.8 309.5 L428.6 309.7 L428.8 309.5 L429.2 309.6 L429.4 309.3 L429.8 309.4 L430.2 309.4 L430.4 309.7 L431.4 309.3 L431.6 309.4 L432.2 309.5 L432.6 309.4 L433.0 309.6 L433.6 309.3 L434.0 309.3 L434.2 309.6 L434.4 309.6 L434.6 309.8 L435.2 309.7 L435.6 309.3 L435.8 309.3 L436.2 309.4 L436.4 309.7 L436.8 309.9 L437.4 309.8 L437.6 310.0 L437.8 309.8 L438.0 309.9 L438.2 309.7 L438.4 309.7 L438.6 309.5 L438.8 309.6 L439.0 309.5 L439.4 309.5 L439.6 309.7 L441.0 310.3 L441.6 310.0 L441.8 310.2 L442.0 310.0 L442.6 310.2 L442.8 309.9 L443.2 309.8 L443.6 309.9 L444.0 310.3 L444.2 310.3 L444.4 310.0 L445.0 309.8 L445.4 310.0 L445.6 310.0 L445.8 309.9 L446.2 309.9 L446.6 309.7 L447.8 309.8 L448.8 309.4 L449.6 309.5 L450.8 308.9 L451.4 308.0 L451.6 306.8 L451.8 301.1 L452.2 264.3 L452.4 257.0 L452.8 279.5 L453.0 278.7 L453.2 280.2 L453.6 296.1 L453.8 298.1 L454.4 296.1 L454.6 296.0 L454.8 296.6 L455.2 299.1 L456.0 306.5 L456.4 308.8 L457.0 310.3 L457.6 310.7 L458.2 310.9 L459.2 310.5 L459.8 310.4 L460.2 310.9 L460.4 310.9 L460.6 310.7 L460.8 310.9 L461.0 310.7"/>
<path d="M40.0 327.3 L40.4 327.3 L40.8 327.1 L41.0 327.3 L41.4 327.2 L41.8 327.5 L42.8 327.5 L43.4 327.7 L43.6 327.6 L43.8 327.7 L44.2 327.5 L44.8 328.0 L45.0 327.9 L45.2 328.1 L45.4 327.8 L45.8 327.7 L46.0 327.8 L46.2 327.5 L47.0 327.9 L47.4 328.3 L48.0 327.8 L48.4 327.8 L48.6 328.0 L48.8 327.9 L49.0 328.1 L49.6 328.3 L50.6 327.9 L51.4 328.2 L51.8 328.6 L52.4 328.5 L52.6 328.2 L53.0 328.3 L53.6 328.8 L53.8 328.7 L54.0 328.9 L55.0 328.6 L55.2 328.7 L55.6 328.6 L55.8 328.6 L56.0 328.4 L56.4 328.2 L56.6 328.5 L57.4 328.9 L57.6 328.8 L58.0 329.0 L58.2 328.9 L58.6 329.1 L59.4 329.0 L60.4 329.5 L61.2 329.4 L61.4 329.3 L61.8 329.5 L62.6 329.3 L63.4 329.7 L64.8 329.7 L65.2 330.0 L65.4 329.8 L65.6 329.9 L66.2 329.6 L66.4 329.9 L66.6 329.9 L67.0 330.0 L67.2 329.9 L67.4 329.2 L67.6 327.7 L68.2 312.7 L68.4 310.8 L69.0 320.4 L69.2 321.7 L69.6 323.2 L70.8 329.7 L71.0 330.3 L71.6 331.0 L71.8 331.1 L72.8 331.0 L73.2 331.1 L73.4 331.0 L73.8 331.1 L74.4 331.9 L74.8 332.1 L75.4 331.5 L76.0 331.5 L76.4 331.5 L77.0 331.3 L77.2 331.5 L77.6 331.3 L78.0 331.7 L78.2 331.6 L78.6 331.8 L79.6 331.7 L80.4 332.1 L80.8 331.9 L81.0 332.0 L81.2 331.9 L81.8 332.4 L82.0 332.2 L82.6 332.0 L82.8 332.2 L83.0 332.0 L83.4 332.3 L84.4 332.1 L85.0 332.6 L85.2 332.6 L85.4 332.8 L85.8 332.6 L86.2 333.1 L86.6 332.9 L87.2 332.4 L87.6 332.7 L88.4 332.9 L88.6 332.7 L89.0 332.8 L89.4 332.6 L89.8 332.9 L90.2 333.0 L90.6 333.1 L90.8 332.9 L91.0 332.9 L91.4 333.1 L91.6 333.1 L92.6 333.4 L93.2 333.4 L93.6 333.5 L94.0 333.4 L94.2 333.6 L94.6 333.4 L94.8 333.7 L95.2 333.6 L95.6 333.8 L95.8 333.7 L96.2 333.8 L96.6 333.7 L96.8 334.0 L97.0 334.1 L97.2 333.8 L97.6 334.3 L97.8 334.1 L98.2 334.7 L99.0 334.3 L99.6 334.6 L100.2 334.5 L100.4 334.3 L100.6 333.7 L100.8 332.6 L101.2 327.7 L101.4 326.9 L102.0 332.9 L102.2 333.5 L102.4 333.7 L102.8 333.7 L103.0 333.5 L103.2 333.9 L103.8 334.0 L104.0 333.4 L104.2 330.8 L104.6 321.6 L104.8 319.6 L105.2 322.2 L105.4 321.4 L105.8 317.0 L106.2 309.9 L106.4 313.2 L107.0 332.7 L107.4 334.8 L107.6 334.7 L108.2 335.0 L108.4 334.9 L109.0 335.5 L109.6 335.5 L110.0 335.3 L111.2 335.5 L111.4 335.4 L111.6 335.3 L111.8 335.5 L112.2 335.2 L112.6 335.6 L113.0 335.3 L113.4 335.5 L113.6 335.3 L114.2 335.6 L114.4 335.5 L114.6 335.6 L115.4 335.5 L115.6 335.3 L116.0 335.3 L116.2 335.0 L116.4 335.0 L116.6 335.2 L117.0 335.0 L117.2 335.1 L117.8 334.9 L118.0 335.2 L119.0 335.8 L119.4 335.8 L120.2 336.0 L121.0 335.9 L121.2 336.0 L121.8 335.9 L122.2 336.0 L122.8 336.4 L123.6 336.2 L124.0 336.4 L124.4 336.2 L124.8 336.2 L125.0 336.0 L125.6 336.2 L125.8 336.1 L126.4 336.3 L126.6 336.2 L127.8 336.4 L128.4 336.3 L128.8 336.4 L129.0 336.6 L129.6 336.5 L130.0 336.2 L130.4 336.2 L131.0 336.6 L131.4 336.6 L131.6 336.4 L132.0 336.5 L132.2 336.7 L132.6 336.9 L132.8 336.8 L133.4 336.5 L133.8 336.3 L134.0 336.4 L134.2 336.1 L134.4 336.4 L134.8 336.2 L135.0 336.1 L135.2 335.8 L135.8 331.0 L136.0 331.3 L136.4 334.6 L136.8 336.4 L137.6 336.5 L138.2 336.3 L138.4 336.4 L138.6 336.3 L139.0 336.4 L139.2 336.5 L139.6 336.3 L140.6 336.7 L141.2 336.3 L141.6 336.4 L142.2 336.9 L142.8 337.0 L143.2 336.7 L143.4 336.9 L143.6 336.8 L143.8 336.6 L144.2 336.8 L144.8 336.9 L145.4 336.4 L145.8 336.4 L147.0 337.3 L147.4 337.0 L147.8 337.0 L148.0 336.9 L148.2 336.9 L148.4 337.1 L150.2 336.8 L150.4 336.9 L150.6 336.9 L151.0 337.2 L151.6 337.2 L151.8 337.2 L152.0 337.1 L152.2 337.3 L152.4 337.0 L152.6 337.2 L152.8 337.1 L153.0 337.3 L153.6 337.3 L154.0 337.1 L154.4 337.4 L155.2 337.3 L155.8 336.7 L156.4 335.8 L156.8 334.4 L157.2 329.5 L157.4 324.3 L157.8 305.1 L158.6 237.1 L159.0 217.0 L159.2 217.9 L159.4 226.1 L160.6 318.7 L161.0 330.7 L161.2 333.4 L161.6 335.9 L161.8 336.4 L162.2 336.9 L162.8 337.0 L163.8 337.5 L164.2 337.6 L165.0 337.3 L166.0 337.5 L166.6 337.3 L166.8 337.5 L167.6 337.6 L167.8 337.5 L168.2 337.8 L169.4 337.5 L169.6 337.7 L170.8 337.3 L171.2 337.3 L171.6 337.5 L171.8 337.4 L172.0 337.6 L172.6 337.5 L173.2 337.9 L174.2 337.6 L174.8 337.2 L175.4 335.3 L175.6 335.1 L176.2 336.6 L176.4 336.8 L176.8 336.8 L177.2 337.0 L177.6 336.7 L177.8 336.8 L178.2 336.2 L178.4 336.2 L178.6 336.4 L179.0 336.5 L179.4 337.0 L179.6 337.0 L180.6 336.1 L181.0 336.3 L181.2 335.7 L181.4 334.1 L181.8 327.3 L182.0 325.9 L182.8 336.0 L183.2 336.9 L183.6 336.8 L183.8 336.9 L184.0 336.7 L184.2 335.1 L184.4 330.9 L184.8 314.1 L185.0 310.6 L185.6 331.2 L185.8 335.3 L186.0 336.9 L186.2 337.4 L186.6 337.6 L187.6 337.2 L187.8 337.5 L188.4 337.4 L188.6 337.5 L188.8 337.2 L189.0 337.2 L189.4 337.4 L189.6 337.1 L190.2 337.1 L190.4 336.9 L190.6 337.0 L191.4 336.6 L191.8 336.6 L192.4 335.7 L192.6 335.1 L193.6 329.0 L194.0 327.3 L194.2 327.2 L194.4 327.8 L195.2 333.3 L195.6 335.1 L196.0 336.2 L196.6 336.2 L197.0 335.8 L197.4 335.7 L197.6 335.4 L197.8 335.5 L198.2 335.3 L198.6 335.1 L198.8 333.6 L199.0 328.0 L199.4 296.5 L199.6 289.1 L200.2 326.5 L200.4 331.6 L200.6 333.0 L201.0 333.1 L201.2 332.3 L201.4 321.7 L201.6 259.4 L202.0 -192.8 L202.2 -301.2 L202.8 247.7 L203.0 316.0 L203.2 331.2 L203.4 333.1 L203.8 333.4 L204.0 333.3 L204.2 330.8 L204.8 292.6 L205.0 293.9 L205.4 322.6 L205.6 331.1 L205.8 334.1 L206.0 334.8 L206.2 334.9 L206.6 334.9 L206.8 334.6 L207.4 334.4 L207.6 333.9 L207.8 332.5 L208.0 323.5 L208.2 292.7 L208.6 188.9 L208.8 192.9 L209.2 289.9 L209.4 319.9 L209.6 330.5 L209.8 332.7 L210.0 333.1 L210.2 332.9 L210.6 333.3 L210.8 333.1 L211.0 331.1 L211.2 321.5 L211.6 263.1 L211.8 249.7 L212.4 319.9 L212.6 330.9 L212.8 334.2 L213.2 335.3 L213.4 335.4 L213.6 335.1 L213.8 333.7 L214.2 327.6 L214.4 326.4 L215.2 336.3 L215.6 337.5 L216.4 337.4 L216.8 337.2 L217.0 337.4 L217.2 337.3 L217.6 337.6 L218.6 337.1 L219.4 337.3 L219.8 337.0 L220.0 337.1 L220.6 337.1 L221.4 336.5 L222.4 336.9 L222.8 335.7 L223.2 332.1 L223.4 331.2 L223.6 332.0 L224.0 335.3 L224.4 336.7 L224.8 336.9 L225.0 336.8 L225.4 337.1 L225.8 337.1 L226.8 336.5 L227.2 336.8 L227.6 336.8 L227.8 336.5 L228.4 333.6 L228.6 333.6 L229.4 337.0 L229.8 337.4 L230.6 337.0 L230.8 336.3 L231.0 334.4 L231.4 327.5 L231.6 326.1 L231.8 327.5 L232.4 336.4 L232.8 337.5 L233.2 337.8 L233.4 337.7 L233.6 337.8 L234.0 337.8 L234.2 337.9 L235.2 337.8 L235.6 338.1 L236.4 338.0 L236.6 337.7 L236.8 337.9 L237.4 337.9 L237.6 338.3 L238.0 338.5 L238.2 338.3 L238.4 338.3 L238.6 338.0 L238.8 338.2 L239.0 338.1 L239.2 338.3 L239.6 338.3 L239.8 338.0 L240.2 337.9 L241.2 338.5 L241.6 338.1 L241.8 337.7 L242.4 334.3 L242.6 334.4 L243.2 337.6 L243.4 338.1 L243.6 338.3 L244.0 338.4 L244.2 338.2 L244.4 338.3 L245.2 339.2 L245.4 339.1 L245.6 338.8 L246.0 338.7 L246.6 339.0 L247.4 338.7 L247.6 338.8 L247.8 338.7 L248.0 338.9 L248.4 339.0 L248.6 338.8 L249.0 339.1 L249.4 339.2 L249.8 339.2 L250.0 338.9 L250.2 338.9 L250.4 338.8 L250.8 339.1 L251.2 339.0 L251.4 339.1 L252.0 338.6 L252.4 338.5 L253.2 338.9 L254.2 338.6 L254.8 338.7 L255.6 338.5 L256.0 338.7 L256.6 338.8 L257.0 338.7 L257.2 338.8 L257.4 338.6 L258.0 338.5 L258.2 338.3 L258.4 338.4 L259.0 337.9 L259.2 338.0 L259.6 337.6 L259.8 337.8 L260.8 337.4 L262.0 337.3 L262.6 336.9 L263.4 336.9 L263.6 336.1 L263.8 333.9 L264.2 325.9 L264.4 324.2 L265.2 335.1 L265.4 336.2 L266.8 337.0 L267.6 337.0 L268.0 337.4 L268.2 337.4 L268.4 337.6 L268.8 337.6 L269.2 337.9 L269.4 337.7 L269.8 338.3 L270.0 338.2 L270.6 338.4 L271.4 338.3 L271.6 338.1 L271.8 338.1 L272.2 338.1 L273.0 339.0 L273.2 339.0 L273.4 338.9 L273.6 338.9 L274.2 338.5 L274.4 338.6 L274.8 338.5 L275.2 338.9 L275.6 338.5 L275.8 337.0 L276.0 332.7 L276.6 308.8 L276.8 310.6 L277.4 333.0 L277.6 336.9 L277.8 338.5 L278.0 338.8 L278.8 338.7 L279.4 339.0 L280.0 338.7 L280.2 338.3 L280.4 338.3 L280.8 338.6 L281.2 339.1 L281.6 339.3 L281.8 339.1 L282.2 339.0 L282.8 339.0 L283.0 339.2 L283.4 339.2 L283.8 339.2 L284.0 338.9 L284.4 338.9 L284.8 339.2 L285.6 339.3 L285.8 339.2 L286.2 339.5 L286.8 339.5 L287.2 339.3 L287.6 339.5 L288.4 338.8 L289.0 339.1 L289.6 338.9 L289.8 338.7 L290.0 338.6 L290.4 338.9 L290.6 338.8 L290.8 338.8 L291.2 338.5 L292.0 338.1 L292.2 338.2 L292.4 337.9 L293.4 338.2 L294.4 337.6 L294.8 337.6 L295.4 338.2 L295.6 338.1 L295.8 338.2 L296.0 337.9 L296.6 337.6 L296.8 337.3 L297.4 336.8 L297.8 336.3 L298.0 334.0 L298.2 324.7 L298.6 287.2 L298.8 284.9 L299.6 332.3 L299.8 336.3 L300.0 337.2 L300.2 337.6 L300.4 337.5 L300.8 337.7 L301.0 337.9 L301.2 337.9 L301.6 338.1 L302.0 338.1 L302.2 338.4 L302.6 338.5 L302.8 338.9 L303.2 338.8 L303.4 339.0 L303.8 338.8 L304.0 338.5 L304.2 335.8 L304.4 326.8 L304.8 300.1 L305.0 301.8 L305.6 330.2 L305.8 336.1 L306.0 338.1 L306.2 338.4 L306.4 338.5 L307.4 338.8 L308.2 338.8 L308.4 338.7 L308.6 338.7 L309.2 338.4 L309.6 338.0 L310.2 338.1 L310.8 338.7 L311.4 338.3 L311.8 337.9 L312.2 337.9 L312.6 338.2 L313.2 338.1 L313.6 337.8 L314.4 337.8 L314.8 337.5 L315.0 336.8 L315.6 333.5 L315.8 333.7 L316.6 336.7 L317.2 336.9 L317.6 336.5 L318.6 336.2 L319.2 335.7 L320.0 335.7 L320.2 334.7 L320.4 330.5 L321.0 274.8 L321.2 278.3 L322.0 331.1 L322.2 335.5 L322.4 336.7 L322.6 337.1 L323.8 338.0 L324.6 338.2 L325.2 338.7 L326.0 338.3 L327.0 338.6 L327.4 338.4 L328.4 338.5 L328.6 338.7 L330.0 338.5 L330.4 338.7 L330.8 338.5 L331.6 338.5 L331.8 338.8 L332.4 339.0 L333.6 338.7 L334.6 338.8 L335.2 338.6 L336.2 338.7 L336.4 338.5 L337.6 338.9 L337.8 338.8 L338.0 338.9 L339.0 338.2 L339.6 338.7 L340.0 338.8 L340.2 338.7 L340.4 339.0 L340.6 338.9 L340.8 339.1 L342.2 338.4 L343.2 338.7 L343.4 338.6 L344.2 338.9 L345.0 338.7 L345.4 337.9 L345.6 334.7 L346.2 305.1 L347.2 335.6 L347.4 338.0 L347.6 338.6 L348.0 338.7 L348.2 338.5 L348.4 338.5 L349.0 338.6 L349.4 339.0 L349.8 338.8 L350.2 339.0 L350.4 338.7 L351.0 338.9 L351.6 338.8 L352.2 339.0 L352.6 339.4 L353.0 339.5 L353.4 339.3 L353.6 339.0 L354.8 339.4 L355.6 339.1 L355.8 338.9 L356.0 339.1 L356.4 339.0 L356.6 339.3 L357.0 339.6 L357.2 339.5 L357.4 339.6 L357.6 339.3 L357.8 339.6 L358.6 339.7 L359.0 339.3 L359.4 339.3 L360.4 338.9 L360.8 338.9 L361.0 339.2 L361.2 339.2 L362.4 338.8 L363.4 338.8 L364.2 339.2 L364.8 338.8 L365.0 338.8 L365.2 338.5 L365.6 338.7 L366.0 338.8 L366.4 338.7 L367.0 338.3 L367.2 338.5 L367.6 338.3 L368.0 338.6 L368.2 338.3 L368.6 338.3 L369.0 338.0 L369.6 338.4 L370.0 338.5 L370.4 338.2 L371.2 338.0 L372.2 338.8 L372.4 338.8 L373.0 338.3 L374.0 338.4 L374.8 338.2 L375.2 338.3 L376.4 337.6 L377.8 336.1 L378.0 335.2 L378.2 332.0 L378.8 270.3 L379.0 272.1 L380.0 331.4 L380.2 335.3 L380.8 336.9 L381.2 336.9 L381.4 337.2 L382.0 337.2 L382.4 337.4 L382.8 337.3 L383.2 337.5 L383.4 337.4 L383.8 337.9 L384.8 338.1 L385.4 338.9 L385.8 338.9 L386.0 338.7 L386.4 338.7 L387.0 339.3 L388.0 339.0 L388.4 339.3 L389.2 339.2 L390.6 339.5 L391.0 339.4 L391.2 339.5 L392.0 339.4 L392.4 339.1 L393.0 339.2 L393.4 339.5 L393.8 339.5 L394.0 339.6 L394.4 339.3 L395.0 339.1 L395.6 339.4 L396.0 339.4 L396.2 339.5 L396.8 339.3 L397.0 339.4 L397.2 339.2 L397.4 339.3 L397.8 339.5 L398.0 339.4 L399.0 339.4 L399.4 339.2 L399.6 339.3 L400.0 339.2 L400.2 339.4 L401.2 339.6 L401.4 339.9 L402.0 339.9 L402.4 339.4 L402.8 339.3 L403.0 339.1 L403.4 339.2 L403.6 339.0 L404.2 339.4 L405.0 339.5 L405.2 339.5 L405.4 339.6 L405.8 339.6 L406.4 339.1 L406.8 339.0 L407.4 339.4 L407.8 339.5 L408.2 339.3 L408.6 339.4 L409.4 339.3 L410.2 339.3 L411.0 339.6 L411.4 339.5 L411.8 339.5 L412.6 338.9 L413.0 339.0 L413.2 338.8 L413.4 338.4 L413.6 336.6 L414.2 316.8 L414.4 315.2 L415.4 333.7 L415.6 336.8 L415.8 337.9 L416.2 338.0 L416.4 337.7 L416.8 337.5 L417.6 337.6 L418.0 338.1 L418.4 338.2 L418.6 338.6 L419.0 338.7 L419.4 339.2 L419.8 339.2 L420.0 338.9 L420.2 339.0 L420.6 338.7 L421.0 338.7 L421.2 338.5 L421.6 338.6 L421.8 338.5 L422.2 338.8 L422.4 338.8 L423.0 338.5 L423.4 338.2 L424.4 338.6 L424.6 338.6 L424.8 338.4 L425.4 338.7 L425.8 338.6 L426.0 338.3 L426.4 338.2 L426.6 337.9 L427.0 338.3 L427.4 338.3 L427.6 338.5 L428.0 338.4 L428.6 338.0 L429.0 337.9 L429.4 338.2 L430.4 338.0 L431.0 338.2 L431.4 338.2 L431.8 338.5 L432.0 338.3 L432.2 338.5 L432.8 338.2 L433.0 338.3 L433.2 338.2 L433.6 338.3 L434.6 337.7 L435.0 338.1 L435.6 338.2 L436.0 338.0 L436.6 338.2 L437.4 338.0 L437.8 338.1 L438.2 338.0 L438.4 338.2 L438.6 338.0 L439.2 338.4 L439.4 338.1 L440.0 338.2 L440.4 338.4 L440.8 338.2 L441.6 338.1 L441.8 338.3 L442.4 338.0 L442.6 338.2 L443.0 338.2 L443.2 338.1 L444.2 338.3 L444.8 338.2 L445.2 338.5 L445.6 338.3 L445.8 338.5 L446.2 338.4 L446.6 338.7 L446.8 338.4 L447.6 338.3 L447.8 338.5 L448.2 338.5 L448.4 338.4 L448.6 338.6 L448.8 338.5 L449.0 338.6 L449.4 338.5 L449.6 338.2 L449.8 338.2 L450.8 337.6 L451.4 336.6 L451.6 335.3 L451.8 329.2 L452.2 289.9 L452.4 281.3 L452.8 301.3 L453.0 299.0 L453.2 299.7 L453.6 316.2 L453.8 319.6 L454.4 324.4 L455.4 334.9 L455.8 337.2 L456.4 338.1 L457.2 338.5 L457.8 338.5 L458.0 338.7 L458.6 338.5 L458.8 338.6 L459.2 338.5 L459.6 338.9 L460.0 338.7 L460.2 338.8 L460.6 338.6 L461.0 338.7"/>
</g>
<rect x="155.5" y="80" width="7" height="101" fill="#fff" fill-opacity="0.2"/>
<rect x="40" y="8" width="420.5" height="336.5" fill="none" stroke="#2e2e2e" stroke-width="1.6"/>
<g stroke="#262626" stroke-width="1.4">
<line x1="40.00" y1="344.5" x2="40.00" y2="347.5"/><line x1="77.52" y1="344.5" x2="77.52" y2="350.5"/><line x1="115.04" y1="344.5" x2="115.04" y2="347.5"/><line x1="152.56" y1="344.5" x2="152.56" y2="350.5"/><line x1="190.08" y1="344.5" x2="190.08" y2="347.5"/><line x1="227.60" y1="344.5" x2="227.60" y2="350.5"/><line x1="265.12" y1="344.5" x2="265.12" y2="347.5"/><line x1="302.64" y1="344.5" x2="302.64" y2="350.5"/><line x1="340.16" y1="344.5" x2="340.16" y2="347.5"/><line x1="377.68" y1="344.5" x2="377.68" y2="350.5"/><line x1="415.20" y1="344.5" x2="415.20" y2="347.5"/><line x1="452.72" y1="344.5" x2="452.72" y2="350.5"/>
</g>
<g style="font-family:'Liberation Sans',Arial,sans-serif;font-size:14px" fill="#111">
<text x="77.52" y="365.8" text-anchor="middle">10</text><text x="152.56" y="365.8" text-anchor="middle">20</text><text x="227.60" y="365.8" text-anchor="middle">30</text><text x="302.64" y="365.8" text-anchor="middle">40</text><text x="377.68" y="365.8" text-anchor="middle">50</text><text x="452.72" y="365.8" text-anchor="middle">60</text>
</g>
<text x="184.1" y="395.4" style="font-family:'Liberation Sans',Arial,sans-serif;font-size:17.6px" fill="#111">2 Theta (Cu-K<tspan style="font-family:'DejaVu Serif',serif;font-style:italic">α</tspan>)</text>
<text transform="translate(20.8,219.5) rotate(-90)" style="font-family:'Liberation Sans',Arial,sans-serif;font-size:17.6px" fill="#111">Intensity (a.u.)</text>
<text x="62.6" y="421.9" style="font-family:'Liberation Sans',Arial,sans-serif;font-size:11.9px;font-weight:bold" fill="#111" xml:space="preserve">C: calcite;  MMT: montmorillonite; M: mica; F: feldspar; Q: quartz</text>
<g style="font-family:'Liberation Sans',Arial,sans-serif;font-size:11px;font-weight:bold" fill="#111" stroke="#111" stroke-width="0.45" text-anchor="middle">
<text x="209.70" y="26.9" style="font-size:10.5px">F</text>
<text x="68.75" y="223.6">M</text>
<text x="104.90" y="231.0" style="font-size:10.5px">F</text>
<text x="166.9" y="241.8" style="font-size:10px">C</text>
<text x="174.35" y="235.2" style="font-size:10px">C</text>
<text x="181.95" y="226.9" style="font-size:10.5px">F</text>
<text x="193.85" y="234.8" style="font-size:10.5px">F</text>
<text x="220.55" y="241.0" style="font-size:10px">C</text>
<text x="229.75" y="244.0" style="font-size:10.5px">F</text>
<g clip-path="url(#qc)" style="font-size:11.4px"><text x="158.3" y="76.3">Q</text>
<text x="196.25" y="19.0">Q</text>
<text x="276.3" y="174.9">Q</text>
<text x="297.6" y="220.0">Q</text>
<text x="321.0" y="209.4">Q</text>
<text x="345.8" y="238.7">Q</text>
<text x="377.8" y="186.2">Q</text>
<text x="412.7" y="233.1">Q</text>
<text x="452.0" y="206.6">Q</text></g>
<text x="56.45" y="195.8" style="font-size:11.6px">MMT</text>
</g>
<line x1="54.9" y1="206.5" x2="54.9" y2="220" stroke="#555" stroke-width="1"/>
<path d="M51.9 219.8 L58.3 219.8 L55.1 226.6 Z" fill="#111"/>
<g style="font-family:'Liberation Sans',Arial,sans-serif;font-size:16.5px;font-weight:bold" fill="#111" stroke="#111" stroke-width="0.25">
<text x="468.9" y="259.3">MMT 30%</text>
<text x="468.9" y="286.7">MMT 20%</text>
<text x="468.9" y="313.3">MMT 10%</text>
<text x="468.9" y="339.2">sand</text>
</g>
</svg>
</body></html>
